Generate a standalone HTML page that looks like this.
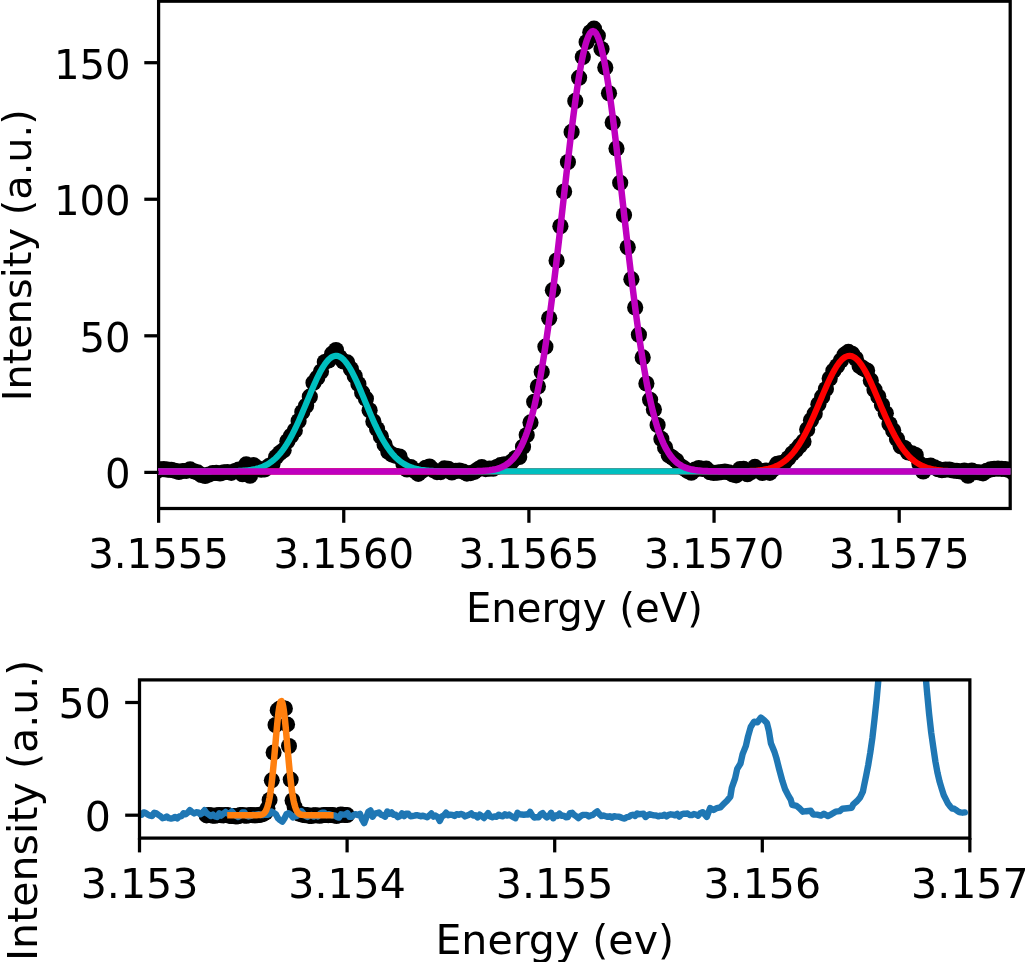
<!DOCTYPE html>
<html lang="en"><head><meta charset="utf-8"><title>Spectrum fit</title>
<style>html,body{margin:0;padding:0;background:#fff}body{width:1025px;height:962px;overflow:hidden}</style></head>
<body>
<svg width="1025" height="962" viewBox="0 0 1025 962" style="display:block">
<defs>
<clipPath id="cu"><rect x="158.0" y="1.2" width="852.40" height="507.30"/></clipPath>
<clipPath id="cl"><rect x="139.5" y="679.9" width="830.35" height="158.20"/></clipPath>
</defs>
<rect width="1025" height="962" fill="#fff"/>
<rect x="158.6" y="1.2" width="851.60" height="507.30" fill="none" stroke="#000" stroke-width="3.25"/>
<g clip-path="url(#cu)">
<g fill="#000">
<circle cx="156.5" cy="471.0" r="8.1"/>
<circle cx="160.2" cy="469.4" r="8.1"/>
<circle cx="163.9" cy="469.1" r="8.1"/>
<circle cx="167.7" cy="469.7" r="8.1"/>
<circle cx="171.4" cy="469.9" r="8.1"/>
<circle cx="175.2" cy="470.8" r="8.1"/>
<circle cx="178.9" cy="471.9" r="8.1"/>
<circle cx="182.6" cy="471.0" r="8.1"/>
<circle cx="186.4" cy="470.8" r="8.1"/>
<circle cx="190.1" cy="469.4" r="8.1"/>
<circle cx="193.9" cy="471.3" r="8.1"/>
<circle cx="197.6" cy="472.4" r="8.1"/>
<circle cx="201.3" cy="474.9" r="8.1"/>
<circle cx="205.1" cy="475.9" r="8.1"/>
<circle cx="208.8" cy="474.6" r="8.1"/>
<circle cx="212.6" cy="473.2" r="8.1"/>
<circle cx="216.3" cy="472.9" r="8.1"/>
<circle cx="220.0" cy="473.5" r="8.1"/>
<circle cx="223.8" cy="472.3" r="8.1"/>
<circle cx="227.5" cy="472.0" r="8.1"/>
<circle cx="231.3" cy="472.8" r="8.1"/>
<circle cx="235.0" cy="471.0" r="8.1"/>
<circle cx="238.7" cy="469.5" r="8.1"/>
<circle cx="242.5" cy="474.2" r="8.1"/>
<circle cx="246.2" cy="464.4" r="8.1"/>
<circle cx="250.0" cy="475.7" r="8.1"/>
<circle cx="253.7" cy="465.2" r="8.1"/>
<circle cx="257.4" cy="468.0" r="8.1"/>
<circle cx="261.2" cy="469.7" r="8.1"/>
<circle cx="264.9" cy="469.3" r="8.1"/>
<circle cx="268.7" cy="466.2" r="8.1"/>
<circle cx="272.4" cy="464.2" r="8.1"/>
<circle cx="276.1" cy="456.9" r="8.1"/>
<circle cx="279.9" cy="452.9" r="8.1"/>
<circle cx="283.6" cy="450.2" r="8.1"/>
<circle cx="287.4" cy="441.2" r="8.1"/>
<circle cx="291.1" cy="435.8" r="8.1"/>
<circle cx="294.8" cy="430.4" r="8.1"/>
<circle cx="298.6" cy="421.0" r="8.1"/>
<circle cx="302.3" cy="412.1" r="8.1"/>
<circle cx="306.1" cy="405.8" r="8.1"/>
<circle cx="309.8" cy="396.7" r="8.1"/>
<circle cx="313.5" cy="382.8" r="8.1"/>
<circle cx="317.3" cy="377.8" r="8.1"/>
<circle cx="321.0" cy="371.5" r="8.1"/>
<circle cx="324.8" cy="362.1" r="8.1"/>
<circle cx="328.5" cy="360.4" r="8.1"/>
<circle cx="332.2" cy="353.8" r="8.1"/>
<circle cx="336.0" cy="350.0" r="8.1"/>
<circle cx="339.7" cy="357.3" r="8.1"/>
<circle cx="343.5" cy="361.4" r="8.1"/>
<circle cx="347.2" cy="362.4" r="8.1"/>
<circle cx="350.9" cy="368.9" r="8.1"/>
<circle cx="354.7" cy="376.0" r="8.1"/>
<circle cx="358.4" cy="383.9" r="8.1"/>
<circle cx="362.2" cy="392.7" r="8.1"/>
<circle cx="365.9" cy="398.7" r="8.1"/>
<circle cx="369.6" cy="410.3" r="8.1"/>
<circle cx="373.4" cy="421.4" r="8.1"/>
<circle cx="377.1" cy="429.1" r="8.1"/>
<circle cx="380.9" cy="436.6" r="8.1"/>
<circle cx="384.6" cy="444.6" r="8.1"/>
<circle cx="388.3" cy="451.7" r="8.1"/>
<circle cx="392.1" cy="454.6" r="8.1"/>
<circle cx="395.8" cy="455.8" r="8.1"/>
<circle cx="399.6" cy="456.5" r="8.1"/>
<circle cx="403.3" cy="463.5" r="8.1"/>
<circle cx="407.0" cy="469.4" r="8.1"/>
<circle cx="410.8" cy="467.1" r="8.1"/>
<circle cx="414.5" cy="470.7" r="8.1"/>
<circle cx="418.3" cy="473.8" r="8.1"/>
<circle cx="422.0" cy="470.7" r="8.1"/>
<circle cx="425.7" cy="467.8" r="8.1"/>
<circle cx="429.5" cy="466.5" r="8.1"/>
<circle cx="433.2" cy="469.9" r="8.1"/>
<circle cx="437.0" cy="472.1" r="8.1"/>
<circle cx="440.7" cy="472.1" r="8.1"/>
<circle cx="444.4" cy="468.4" r="8.1"/>
<circle cx="448.2" cy="468.8" r="8.1"/>
<circle cx="451.9" cy="472.4" r="8.1"/>
<circle cx="455.7" cy="470.9" r="8.1"/>
<circle cx="459.4" cy="470.5" r="8.1"/>
<circle cx="463.1" cy="471.6" r="8.1"/>
<circle cx="466.9" cy="473.6" r="8.1"/>
<circle cx="470.6" cy="473.1" r="8.1"/>
<circle cx="474.4" cy="471.8" r="8.1"/>
<circle cx="478.1" cy="469.3" r="8.1"/>
<circle cx="481.8" cy="467.0" r="8.1"/>
<circle cx="485.6" cy="469.1" r="8.1"/>
<circle cx="489.3" cy="468.6" r="8.1"/>
<circle cx="493.1" cy="468.7" r="8.1"/>
<circle cx="496.8" cy="467.1" r="8.1"/>
<circle cx="500.5" cy="465.2" r="8.1"/>
<circle cx="504.3" cy="464.3" r="8.1"/>
<circle cx="508.0" cy="464.5" r="8.1"/>
<circle cx="511.8" cy="461.6" r="8.1"/>
<circle cx="515.5" cy="458.0" r="8.1"/>
<circle cx="519.2" cy="457.0" r="8.1"/>
<circle cx="523.0" cy="446.8" r="8.1"/>
<circle cx="526.7" cy="435.1" r="8.1"/>
<circle cx="530.5" cy="422.4" r="8.1"/>
<circle cx="534.2" cy="401.8" r="8.1"/>
<circle cx="537.9" cy="386.5" r="8.1"/>
<circle cx="541.7" cy="372.0" r="8.1"/>
<circle cx="545.4" cy="346.7" r="8.1"/>
<circle cx="549.2" cy="318.3" r="8.1"/>
<circle cx="552.9" cy="290.2" r="8.1"/>
<circle cx="556.6" cy="260.6" r="8.1"/>
<circle cx="560.4" cy="226.3" r="8.1"/>
<circle cx="564.1" cy="191.6" r="8.1"/>
<circle cx="567.9" cy="162.1" r="8.1"/>
<circle cx="571.6" cy="131.9" r="8.1"/>
<circle cx="575.3" cy="100.9" r="8.1"/>
<circle cx="579.1" cy="77.7" r="8.1"/>
<circle cx="582.8" cy="57.0" r="8.1"/>
<circle cx="586.6" cy="42.0" r="8.1"/>
<circle cx="590.3" cy="32.3" r="8.1"/>
<circle cx="594.0" cy="28.7" r="8.1"/>
<circle cx="597.8" cy="35.7" r="8.1"/>
<circle cx="601.5" cy="49.1" r="8.1"/>
<circle cx="605.3" cy="67.4" r="8.1"/>
<circle cx="609.0" cy="93.3" r="8.1"/>
<circle cx="612.7" cy="122.6" r="8.1"/>
<circle cx="616.5" cy="148.4" r="8.1"/>
<circle cx="620.2" cy="182.8" r="8.1"/>
<circle cx="624.0" cy="215.1" r="8.1"/>
<circle cx="627.7" cy="247.3" r="8.1"/>
<circle cx="631.4" cy="279.2" r="8.1"/>
<circle cx="635.2" cy="307.4" r="8.1"/>
<circle cx="638.9" cy="334.7" r="8.1"/>
<circle cx="642.7" cy="357.4" r="8.1"/>
<circle cx="646.4" cy="383.5" r="8.1"/>
<circle cx="650.1" cy="399.8" r="8.1"/>
<circle cx="653.9" cy="409.6" r="8.1"/>
<circle cx="657.6" cy="425.0" r="8.1"/>
<circle cx="661.4" cy="438.9" r="8.1"/>
<circle cx="665.1" cy="447.4" r="8.1"/>
<circle cx="668.8" cy="455.2" r="8.1"/>
<circle cx="672.6" cy="457.7" r="8.1"/>
<circle cx="676.3" cy="460.6" r="8.1"/>
<circle cx="680.1" cy="465.7" r="8.1"/>
<circle cx="683.8" cy="468.2" r="8.1"/>
<circle cx="687.5" cy="470.8" r="8.1"/>
<circle cx="691.3" cy="472.7" r="8.1"/>
<circle cx="695.0" cy="469.7" r="8.1"/>
<circle cx="698.8" cy="468.0" r="8.1"/>
<circle cx="702.5" cy="468.9" r="8.1"/>
<circle cx="706.2" cy="468.7" r="8.1"/>
<circle cx="710.0" cy="472.2" r="8.1"/>
<circle cx="713.7" cy="472.9" r="8.1"/>
<circle cx="717.5" cy="472.7" r="8.1"/>
<circle cx="721.2" cy="472.1" r="8.1"/>
<circle cx="724.9" cy="471.7" r="8.1"/>
<circle cx="728.7" cy="472.3" r="8.1"/>
<circle cx="732.4" cy="474.3" r="8.1"/>
<circle cx="736.2" cy="475.3" r="8.1"/>
<circle cx="739.9" cy="469.2" r="8.1"/>
<circle cx="743.6" cy="468.9" r="8.1"/>
<circle cx="747.4" cy="474.2" r="8.1"/>
<circle cx="751.1" cy="472.0" r="8.1"/>
<circle cx="754.9" cy="466.9" r="8.1"/>
<circle cx="758.6" cy="470.1" r="8.1"/>
<circle cx="762.3" cy="472.9" r="8.1"/>
<circle cx="766.1" cy="470.6" r="8.1"/>
<circle cx="769.8" cy="472.8" r="8.1"/>
<circle cx="773.6" cy="468.9" r="8.1"/>
<circle cx="777.3" cy="463.8" r="8.1"/>
<circle cx="781.0" cy="463.1" r="8.1"/>
<circle cx="784.8" cy="462.0" r="8.1"/>
<circle cx="788.5" cy="458.0" r="8.1"/>
<circle cx="792.3" cy="453.6" r="8.1"/>
<circle cx="796.0" cy="450.1" r="8.1"/>
<circle cx="799.7" cy="445.7" r="8.1"/>
<circle cx="803.5" cy="441.4" r="8.1"/>
<circle cx="807.2" cy="429.4" r="8.1"/>
<circle cx="811.0" cy="420.2" r="8.1"/>
<circle cx="814.7" cy="413.8" r="8.1"/>
<circle cx="818.4" cy="404.2" r="8.1"/>
<circle cx="822.2" cy="396.7" r="8.1"/>
<circle cx="825.9" cy="389.0" r="8.1"/>
<circle cx="829.7" cy="378.6" r="8.1"/>
<circle cx="833.4" cy="370.8" r="8.1"/>
<circle cx="837.1" cy="366.1" r="8.1"/>
<circle cx="840.9" cy="360.6" r="8.1"/>
<circle cx="844.6" cy="354.7" r="8.1"/>
<circle cx="848.4" cy="351.9" r="8.1"/>
<circle cx="852.1" cy="353.8" r="8.1"/>
<circle cx="855.8" cy="358.5" r="8.1"/>
<circle cx="859.6" cy="365.9" r="8.1"/>
<circle cx="863.3" cy="368.4" r="8.1"/>
<circle cx="867.1" cy="370.5" r="8.1"/>
<circle cx="870.8" cy="380.4" r="8.1"/>
<circle cx="874.5" cy="389.7" r="8.1"/>
<circle cx="878.3" cy="396.6" r="8.1"/>
<circle cx="882.0" cy="404.9" r="8.1"/>
<circle cx="885.8" cy="413.3" r="8.1"/>
<circle cx="889.5" cy="424.0" r="8.1"/>
<circle cx="893.2" cy="430.5" r="8.1"/>
<circle cx="897.0" cy="438.9" r="8.1"/>
<circle cx="900.7" cy="446.2" r="8.1"/>
<circle cx="904.5" cy="448.0" r="8.1"/>
<circle cx="908.2" cy="452.4" r="8.1"/>
<circle cx="911.9" cy="453.3" r="8.1"/>
<circle cx="915.7" cy="455.1" r="8.1"/>
<circle cx="919.4" cy="463.4" r="8.1"/>
<circle cx="923.2" cy="471.5" r="8.1"/>
<circle cx="926.9" cy="466.0" r="8.1"/>
<circle cx="930.6" cy="465.7" r="8.1"/>
<circle cx="934.4" cy="467.3" r="8.1"/>
<circle cx="938.1" cy="469.2" r="8.1"/>
<circle cx="941.9" cy="470.2" r="8.1"/>
<circle cx="945.6" cy="469.6" r="8.1"/>
<circle cx="949.3" cy="469.6" r="8.1"/>
<circle cx="953.1" cy="470.5" r="8.1"/>
<circle cx="956.8" cy="470.9" r="8.1"/>
<circle cx="960.6" cy="471.5" r="8.1"/>
<circle cx="964.3" cy="470.7" r="8.1"/>
<circle cx="968.0" cy="475.7" r="8.1"/>
<circle cx="971.8" cy="470.5" r="8.1"/>
<circle cx="975.5" cy="472.1" r="8.1"/>
<circle cx="979.3" cy="472.4" r="8.1"/>
<circle cx="983.0" cy="473.3" r="8.1"/>
<circle cx="986.7" cy="470.8" r="8.1"/>
<circle cx="990.5" cy="469.4" r="8.1"/>
<circle cx="994.2" cy="468.8" r="8.1"/>
<circle cx="998.0" cy="468.6" r="8.1"/>
<circle cx="1001.7" cy="468.8" r="8.1"/>
<circle cx="1005.4" cy="469.1" r="8.1"/>
<circle cx="1009.2" cy="469.9" r="8.1"/>
<circle cx="1012.9" cy="472.2" r="8.1"/>
</g>
<g fill="none" stroke-width="6.1" stroke-linejoin="round">
<polyline stroke="#ff0000" points="153.6,471.4 155.1,471.4 156.6,471.4 158.1,471.4 159.6,471.4 161.1,471.4 162.6,471.4 164.1,471.4 165.6,471.4 167.1,471.4 168.6,471.4 170.1,471.4 171.6,471.4 173.1,471.4 174.6,471.4 176.1,471.4 177.6,471.4 179.1,471.4 180.6,471.4 182.1,471.4 183.6,471.4 185.1,471.4 186.6,471.4 188.1,471.4 189.6,471.4 191.1,471.4 192.6,471.4 194.1,471.4 195.6,471.4 197.1,471.4 198.6,471.4 200.1,471.4 201.6,471.4 203.1,471.4 204.6,471.4 206.1,471.4 207.6,471.4 209.1,471.4 210.6,471.4 212.1,471.4 213.6,471.4 215.1,471.4 216.6,471.4 218.1,471.4 219.6,471.4 221.1,471.4 222.6,471.4 224.1,471.4 225.6,471.4 227.1,471.4 228.6,471.4 230.1,471.4 231.6,471.4 233.1,471.4 234.6,471.4 236.1,471.4 237.6,471.4 239.1,471.4 240.6,471.4 242.1,471.4 243.6,471.4 245.1,471.4 246.6,471.4 248.1,471.4 249.6,471.4 251.1,471.4 252.6,471.4 254.1,471.4 255.6,471.4 257.1,471.4 258.6,471.4 260.1,471.4 261.6,471.4 263.1,471.4 264.6,471.4 266.1,471.4 267.6,471.4 269.1,471.4 270.6,471.4 272.1,471.4 273.6,471.4 275.1,471.4 276.6,471.4 278.1,471.4 279.6,471.4 281.1,471.4 282.6,471.4 284.1,471.4 285.6,471.4 287.1,471.4 288.6,471.4 290.1,471.4 291.6,471.4 293.1,471.4 294.6,471.4 296.1,471.4 297.6,471.4 299.1,471.4 300.6,471.4 302.1,471.4 303.6,471.4 305.1,471.4 306.6,471.4 308.1,471.4 309.6,471.4 311.1,471.4 312.6,471.4 314.1,471.4 315.6,471.4 317.1,471.4 318.6,471.4 320.1,471.4 321.6,471.4 323.1,471.4 324.6,471.4 326.1,471.4 327.6,471.4 329.1,471.4 330.6,471.4 332.1,471.4 333.6,471.4 335.1,471.4 336.6,471.4 338.1,471.4 339.6,471.4 341.1,471.4 342.6,471.4 344.1,471.4 345.6,471.4 347.1,471.4 348.6,471.4 350.1,471.4 351.6,471.4 353.1,471.4 354.6,471.4 356.1,471.4 357.6,471.4 359.1,471.4 360.6,471.4 362.1,471.4 363.6,471.4 365.1,471.4 366.6,471.4 368.1,471.4 369.6,471.4 371.1,471.4 372.6,471.4 374.1,471.4 375.6,471.4 377.1,471.4 378.6,471.4 380.1,471.4 381.6,471.4 383.1,471.4 384.6,471.4 386.1,471.4 387.6,471.4 389.1,471.4 390.6,471.4 392.1,471.4 393.6,471.4 395.1,471.4 396.6,471.4 398.1,471.4 399.6,471.4 401.1,471.4 402.6,471.4 404.1,471.4 405.6,471.4 407.1,471.4 408.6,471.4 410.1,471.4 411.6,471.4 413.1,471.4 414.6,471.4 416.1,471.4 417.6,471.4 419.1,471.4 420.6,471.4 422.1,471.4 423.6,471.4 425.1,471.4 426.6,471.4 428.1,471.4 429.6,471.4 431.1,471.4 432.6,471.4 434.1,471.4 435.6,471.4 437.1,471.4 438.6,471.4 440.1,471.4 441.6,471.4 443.1,471.4 444.6,471.4 446.1,471.4 447.6,471.4 449.1,471.4 450.6,471.4 452.1,471.4 453.6,471.4 455.1,471.4 456.6,471.4 458.1,471.4 459.6,471.4 461.1,471.4 462.6,471.4 464.1,471.4 465.6,471.4 467.1,471.4 468.6,471.4 470.1,471.4 471.6,471.4 473.1,471.4 474.6,471.4 476.1,471.4 477.6,471.4 479.1,471.4 480.6,471.4 482.1,471.4 483.6,471.4 485.1,471.4 486.6,471.4 488.1,471.4 489.6,471.4 491.1,471.4 492.6,471.4 494.1,471.4 495.6,471.4 497.1,471.4 498.6,471.4 500.1,471.4 501.6,471.4 503.1,471.4 504.6,471.4 506.1,471.4 507.6,471.4 509.1,471.4 510.6,471.4 512.1,471.4 513.6,471.4 515.1,471.4 516.6,471.4 518.1,471.4 519.6,471.4 521.1,471.4 522.6,471.4 524.1,471.4 525.6,471.4 527.1,471.4 528.6,471.4 530.1,471.4 531.6,471.4 533.1,471.4 534.6,471.4 536.1,471.4 537.6,471.4 539.1,471.4 540.6,471.4 542.1,471.4 543.6,471.4 545.1,471.4 546.6,471.4 548.1,471.4 549.6,471.4 551.1,471.4 552.6,471.4 554.1,471.4 555.6,471.4 557.1,471.4 558.6,471.4 560.1,471.4 561.6,471.4 563.1,471.4 564.6,471.4 566.1,471.4 567.6,471.4 569.1,471.4 570.6,471.4 572.1,471.4 573.6,471.4 575.1,471.4 576.6,471.4 578.1,471.4 579.6,471.4 581.1,471.4 582.6,471.4 584.1,471.4 585.6,471.4 587.1,471.4 588.6,471.4 590.1,471.4 591.6,471.4 593.1,471.4 594.6,471.4 596.1,471.4 597.6,471.4 599.1,471.4 600.6,471.4 602.1,471.4 603.6,471.4 605.1,471.4 606.6,471.4 608.1,471.4 609.6,471.4 611.1,471.4 612.6,471.4 614.1,471.4 615.6,471.4 617.1,471.4 618.6,471.4 620.1,471.4 621.6,471.4 623.1,471.4 624.6,471.4 626.1,471.4 627.6,471.4 629.1,471.4 630.6,471.4 632.1,471.4 633.6,471.4 635.1,471.4 636.6,471.4 638.1,471.4 639.6,471.4 641.1,471.4 642.6,471.4 644.1,471.4 645.6,471.4 647.1,471.4 648.6,471.4 650.1,471.4 651.6,471.4 653.1,471.4 654.6,471.4 656.1,471.4 657.6,471.4 659.1,471.4 660.6,471.4 662.1,471.4 663.6,471.4 665.1,471.4 666.6,471.4 668.1,471.4 669.6,471.4 671.1,471.4 672.6,471.4 674.1,471.4 675.6,471.4 677.1,471.4 678.6,471.4 680.1,471.4 681.6,471.4 683.1,471.4 684.6,471.4 686.1,471.4 687.6,471.4 689.1,471.4 690.6,471.4 692.1,471.4 693.6,471.4 695.1,471.4 696.6,471.4 698.1,471.4 699.6,471.4 701.1,471.4 702.6,471.4 704.1,471.4 705.6,471.4 707.1,471.4 708.6,471.4 710.1,471.4 711.6,471.4 713.1,471.4 714.6,471.4 716.1,471.4 717.6,471.4 719.1,471.4 720.6,471.4 722.1,471.4 723.6,471.3 725.1,471.3 726.6,471.3 728.1,471.3 729.6,471.3 731.1,471.3 732.6,471.3 734.1,471.3 735.6,471.3 737.1,471.3 738.6,471.3 740.1,471.2 741.6,471.2 743.1,471.2 744.6,471.2 746.1,471.1 747.6,471.1 749.1,471.0 750.6,470.9 752.1,470.9 753.6,470.8 755.1,470.7 756.6,470.6 758.1,470.4 759.6,470.3 761.1,470.1 762.6,469.9 764.1,469.6 765.6,469.3 767.1,469.0 768.6,468.7 770.1,468.3 771.6,467.8 773.1,467.3 774.6,466.8 776.1,466.1 777.6,465.4 779.1,464.7 780.6,463.8 782.1,462.9 783.6,461.8 785.1,460.7 786.6,459.5 788.1,458.1 789.6,456.7 791.1,455.1 792.6,453.4 794.1,451.6 795.6,449.6 797.1,447.5 798.6,445.3 800.1,442.9 801.6,440.4 803.1,437.8 804.6,435.1 806.1,432.2 807.6,429.2 809.1,426.1 810.6,422.9 812.1,419.6 813.6,416.3 815.1,412.8 816.6,409.3 818.1,405.8 819.6,402.2 821.1,398.7 822.6,395.1 824.1,391.6 825.6,388.2 827.1,384.8 828.6,381.5 830.1,378.3 831.6,375.3 833.1,372.4 834.6,369.7 836.1,367.2 837.6,364.9 839.1,362.8 840.6,361.0 842.1,359.4 843.6,358.1 845.1,357.1 846.6,356.4 848.1,356.0 849.6,355.8 851.1,356.0 852.6,356.5 854.1,357.2 855.6,358.3 857.1,359.6 858.6,361.2 860.1,363.1 861.6,365.1 863.1,367.5 864.6,370.0 866.1,372.7 867.6,375.7 869.1,378.7 870.6,381.9 872.1,385.2 873.6,388.6 875.1,392.1 876.6,395.6 878.1,399.1 879.6,402.7 881.1,406.3 882.6,409.8 884.1,413.3 885.6,416.7 887.1,420.1 888.6,423.4 890.1,426.5 891.6,429.6 893.1,432.6 894.6,435.5 896.1,438.2 897.6,440.8 899.1,443.3 900.6,445.6 902.1,447.8 903.6,449.9 905.1,451.8 906.6,453.6 908.1,455.3 909.6,456.9 911.1,458.3 912.6,459.6 914.1,460.9 915.6,462.0 917.1,463.0 918.6,463.9 920.1,464.8 921.6,465.5 923.1,466.2 924.6,466.8 926.1,467.4 927.6,467.9 929.1,468.3 930.6,468.7 932.1,469.1 933.6,469.4 935.1,469.6 936.6,469.9 938.1,470.1 939.6,470.3 941.1,470.4 942.6,470.6 944.1,470.7 945.6,470.8 947.1,470.9 948.6,471.0 950.1,471.0 951.6,471.1 953.1,471.1 954.6,471.2 956.1,471.2 957.6,471.2 959.1,471.2 960.6,471.3 962.1,471.3 963.6,471.3 965.1,471.3 966.6,471.3 968.1,471.3 969.6,471.3 971.1,471.3 972.6,471.3 974.1,471.3 975.6,471.3 977.1,471.4 978.6,471.4 980.1,471.4 981.6,471.4 983.1,471.4 984.6,471.4 986.1,471.4 987.6,471.4 989.1,471.4 990.6,471.4 992.1,471.4 993.6,471.4 995.1,471.4 996.6,471.4 998.1,471.4 999.6,471.4 1001.1,471.4 1002.6,471.4 1004.1,471.4 1005.6,471.4 1007.1,471.4 1008.6,471.4 1010.1,471.4 1011.6,471.4 1013.1,471.4 1014.6,471.4"/>
<polyline stroke="#00bfbf" points="153.6,471.4 155.1,471.4 156.6,471.4 158.1,471.4 159.6,471.4 161.1,471.4 162.6,471.4 164.1,471.4 165.6,471.4 167.1,471.4 168.6,471.4 170.1,471.4 171.6,471.4 173.1,471.4 174.6,471.4 176.1,471.4 177.6,471.4 179.1,471.4 180.6,471.4 182.1,471.4 183.6,471.4 185.1,471.4 186.6,471.4 188.1,471.4 189.6,471.4 191.1,471.4 192.6,471.4 194.1,471.4 195.6,471.4 197.1,471.4 198.6,471.4 200.1,471.4 201.6,471.4 203.1,471.4 204.6,471.4 206.1,471.4 207.6,471.4 209.1,471.4 210.6,471.4 212.1,471.3 213.6,471.3 215.1,471.3 216.6,471.3 218.1,471.3 219.6,471.3 221.1,471.3 222.6,471.3 224.1,471.3 225.6,471.3 227.1,471.3 228.6,471.2 230.1,471.2 231.6,471.2 233.1,471.2 234.6,471.1 236.1,471.1 237.6,471.0 239.1,470.9 240.6,470.9 242.1,470.8 243.6,470.6 245.1,470.5 246.6,470.4 248.1,470.2 249.6,470.0 251.1,469.8 252.6,469.5 254.1,469.2 255.6,468.9 257.1,468.5 258.6,468.1 260.1,467.6 261.6,467.1 263.1,466.5 264.6,465.8 266.1,465.1 267.6,464.3 269.1,463.4 270.6,462.3 272.1,461.2 273.6,460.0 275.1,458.7 276.6,457.3 278.1,455.7 279.6,454.0 281.1,452.2 282.6,450.3 284.1,448.2 285.6,446.0 287.1,443.6 288.6,441.2 290.1,438.5 291.6,435.8 293.1,432.9 294.6,429.9 296.1,426.7 297.6,423.5 299.1,420.2 300.6,416.7 302.1,413.3 303.6,409.7 305.1,406.1 306.6,402.5 308.1,398.9 309.6,395.3 311.1,391.7 312.6,388.2 314.1,384.7 315.6,381.4 317.1,378.1 318.6,375.1 320.1,372.1 321.6,369.4 323.1,366.9 324.6,364.6 326.1,362.5 327.6,360.7 329.1,359.1 330.6,357.9 332.1,356.9 333.6,356.3 335.1,355.9 336.6,355.8 338.1,356.1 339.6,356.7 341.1,357.5 342.6,358.7 344.1,360.1 345.6,361.9 347.1,363.8 348.6,366.1 350.1,368.5 351.6,371.2 353.1,374.1 354.6,377.1 356.1,380.3 357.6,383.6 359.1,387.0 360.6,390.5 362.1,394.1 363.6,397.7 365.1,401.3 366.6,404.9 368.1,408.5 369.6,412.1 371.1,415.6 372.6,419.0 374.1,422.4 375.6,425.7 377.1,428.8 378.6,431.9 380.1,434.8 381.6,437.6 383.1,440.3 384.6,442.8 386.1,445.2 387.6,447.5 389.1,449.6 390.6,451.6 392.1,453.5 393.6,455.2 395.1,456.8 396.6,458.3 398.1,459.6 399.6,460.9 401.1,462.0 402.6,463.0 404.1,464.0 405.6,464.8 407.1,465.6 408.6,466.3 410.1,466.9 411.6,467.5 413.1,468.0 414.6,468.4 416.1,468.8 417.6,469.1 419.1,469.4 420.6,469.7 422.1,469.9 423.6,470.1 425.1,470.3 426.6,470.5 428.1,470.6 429.6,470.7 431.1,470.8 432.6,470.9 434.1,471.0 435.6,471.0 437.1,471.1 438.6,471.1 440.1,471.2 441.6,471.2 443.1,471.2 444.6,471.3 446.1,471.3 447.6,471.3 449.1,471.3 450.6,471.3 452.1,471.3 453.6,471.3 455.1,471.3 456.6,471.3 458.1,471.3 459.6,471.3 461.1,471.4 462.6,471.4 464.1,471.4 465.6,471.4 467.1,471.4 468.6,471.4 470.1,471.4 471.6,471.4 473.1,471.4 474.6,471.4 476.1,471.4 477.6,471.4 479.1,471.4 480.6,471.4 482.1,471.4 483.6,471.4 485.1,471.4 486.6,471.4 488.1,471.4 489.6,471.4 491.1,471.4 492.6,471.4 494.1,471.4 495.6,471.4 497.1,471.4 498.6,471.4 500.1,471.4 501.6,471.4 503.1,471.4 504.6,471.4 506.1,471.4 507.6,471.4 509.1,471.4 510.6,471.4 512.1,471.4 513.6,471.4 515.1,471.4 516.6,471.4 518.1,471.4 519.6,471.4 521.1,471.4 522.6,471.4 524.1,471.4 525.6,471.4 527.1,471.4 528.6,471.4 530.1,471.4 531.6,471.4 533.1,471.4 534.6,471.4 536.1,471.4 537.6,471.4 539.1,471.4 540.6,471.4 542.1,471.4 543.6,471.4 545.1,471.4 546.6,471.4 548.1,471.4 549.6,471.4 551.1,471.4 552.6,471.4 554.1,471.4 555.6,471.4 557.1,471.4 558.6,471.4 560.1,471.4 561.6,471.4 563.1,471.4 564.6,471.4 566.1,471.4 567.6,471.4 569.1,471.4 570.6,471.4 572.1,471.4 573.6,471.4 575.1,471.4 576.6,471.4 578.1,471.4 579.6,471.4 581.1,471.4 582.6,471.4 584.1,471.4 585.6,471.4 587.1,471.4 588.6,471.4 590.1,471.4 591.6,471.4 593.1,471.4 594.6,471.4 596.1,471.4 597.6,471.4 599.1,471.4 600.6,471.4 602.1,471.4 603.6,471.4 605.1,471.4 606.6,471.4 608.1,471.4 609.6,471.4 611.1,471.4 612.6,471.4 614.1,471.4 615.6,471.4 617.1,471.4 618.6,471.4 620.1,471.4 621.6,471.4 623.1,471.4 624.6,471.4 626.1,471.4 627.6,471.4 629.1,471.4 630.6,471.4 632.1,471.4 633.6,471.4 635.1,471.4 636.6,471.4 638.1,471.4 639.6,471.4 641.1,471.4 642.6,471.4 644.1,471.4 645.6,471.4 647.1,471.4 648.6,471.4 650.1,471.4 651.6,471.4 653.1,471.4 654.6,471.4 656.1,471.4 657.6,471.4 659.1,471.4 660.6,471.4 662.1,471.4 663.6,471.4 665.1,471.4 666.6,471.4 668.1,471.4 669.6,471.4 671.1,471.4 672.6,471.4 674.1,471.4 675.6,471.4 677.1,471.4 678.6,471.4 680.1,471.4 681.6,471.4 683.1,471.4 684.6,471.4 686.1,471.4 687.6,471.4 689.1,471.4 690.6,471.4 692.1,471.4 693.6,471.4 695.1,471.4 696.6,471.4 698.1,471.4 699.6,471.4 701.1,471.4 702.6,471.4 704.1,471.4 705.6,471.4 707.1,471.4 708.6,471.4 710.1,471.4 711.6,471.4 713.1,471.4 714.6,471.4 716.1,471.4 717.6,471.4 719.1,471.4 720.6,471.4 722.1,471.4 723.6,471.4 725.1,471.4 726.6,471.4 728.1,471.4 729.6,471.4 731.1,471.4 732.6,471.4 734.1,471.4 735.6,471.4 737.1,471.4 738.6,471.4 740.1,471.4 741.6,471.4 743.1,471.4 744.6,471.4 746.1,471.4 747.6,471.4 749.1,471.4 750.6,471.4 752.1,471.4 753.6,471.4 755.1,471.4 756.6,471.4 758.1,471.4 759.6,471.4 761.1,471.4 762.6,471.4 764.1,471.4 765.6,471.4 767.1,471.4 768.6,471.4 770.1,471.4 771.6,471.4 773.1,471.4 774.6,471.4 776.1,471.4 777.6,471.4 779.1,471.4 780.6,471.4 782.1,471.4 783.6,471.4 785.1,471.4 786.6,471.4 788.1,471.4 789.6,471.4 791.1,471.4 792.6,471.4 794.1,471.4 795.6,471.4 797.1,471.4 798.6,471.4 800.1,471.4 801.6,471.4 803.1,471.4 804.6,471.4 806.1,471.4 807.6,471.4 809.1,471.4 810.6,471.4 812.1,471.4 813.6,471.4 815.1,471.4 816.6,471.4 818.1,471.4 819.6,471.4 821.1,471.4 822.6,471.4 824.1,471.4 825.6,471.4 827.1,471.4 828.6,471.4 830.1,471.4 831.6,471.4 833.1,471.4 834.6,471.4 836.1,471.4 837.6,471.4 839.1,471.4 840.6,471.4 842.1,471.4 843.6,471.4 845.1,471.4 846.6,471.4 848.1,471.4 849.6,471.4 851.1,471.4 852.6,471.4 854.1,471.4 855.6,471.4 857.1,471.4 858.6,471.4 860.1,471.4 861.6,471.4 863.1,471.4 864.6,471.4 866.1,471.4 867.6,471.4 869.1,471.4 870.6,471.4 872.1,471.4 873.6,471.4 875.1,471.4 876.6,471.4 878.1,471.4 879.6,471.4 881.1,471.4 882.6,471.4 884.1,471.4 885.6,471.4 887.1,471.4 888.6,471.4 890.1,471.4 891.6,471.4 893.1,471.4 894.6,471.4 896.1,471.4 897.6,471.4 899.1,471.4 900.6,471.4 902.1,471.4 903.6,471.4 905.1,471.4 906.6,471.4 908.1,471.4 909.6,471.4 911.1,471.4 912.6,471.4 914.1,471.4 915.6,471.4 917.1,471.4 918.6,471.4 920.1,471.4 921.6,471.4 923.1,471.4 924.6,471.4 926.1,471.4 927.6,471.4 929.1,471.4 930.6,471.4 932.1,471.4 933.6,471.4 935.1,471.4 936.6,471.4 938.1,471.4 939.6,471.4 941.1,471.4 942.6,471.4 944.1,471.4 945.6,471.4 947.1,471.4 948.6,471.4 950.1,471.4 951.6,471.4 953.1,471.4 954.6,471.4 956.1,471.4 957.6,471.4 959.1,471.4 960.6,471.4 962.1,471.4 963.6,471.4 965.1,471.4 966.6,471.4 968.1,471.4 969.6,471.4 971.1,471.4 972.6,471.4 974.1,471.4 975.6,471.4 977.1,471.4 978.6,471.4 980.1,471.4 981.6,471.4 983.1,471.4 984.6,471.4 986.1,471.4 987.6,471.4 989.1,471.4 990.6,471.4 992.1,471.4 993.6,471.4 995.1,471.4 996.6,471.4 998.1,471.4 999.6,471.4 1001.1,471.4 1002.6,471.4 1004.1,471.4 1005.6,471.4 1007.1,471.4 1008.6,471.4 1010.1,471.4 1011.6,471.4 1013.1,471.4 1014.6,471.4"/>
<polyline stroke="#bf00bf" stroke-width="6.5" points="153.6,471.4 155.1,471.4 156.6,471.4 158.1,471.4 159.6,471.4 161.1,471.4 162.6,471.4 164.1,471.4 165.6,471.4 167.1,471.4 168.6,471.4 170.1,471.4 171.6,471.4 173.1,471.4 174.6,471.4 176.1,471.4 177.6,471.4 179.1,471.4 180.6,471.4 182.1,471.4 183.6,471.4 185.1,471.4 186.6,471.4 188.1,471.4 189.6,471.4 191.1,471.4 192.6,471.4 194.1,471.4 195.6,471.4 197.1,471.4 198.6,471.4 200.1,471.4 201.6,471.4 203.1,471.4 204.6,471.4 206.1,471.4 207.6,471.4 209.1,471.4 210.6,471.4 212.1,471.4 213.6,471.4 215.1,471.4 216.6,471.4 218.1,471.4 219.6,471.4 221.1,471.4 222.6,471.4 224.1,471.4 225.6,471.4 227.1,471.4 228.6,471.4 230.1,471.4 231.6,471.4 233.1,471.4 234.6,471.4 236.1,471.4 237.6,471.4 239.1,471.4 240.6,471.4 242.1,471.4 243.6,471.4 245.1,471.4 246.6,471.4 248.1,471.4 249.6,471.4 251.1,471.4 252.6,471.4 254.1,471.4 255.6,471.4 257.1,471.4 258.6,471.4 260.1,471.4 261.6,471.4 263.1,471.4 264.6,471.4 266.1,471.4 267.6,471.4 269.1,471.4 270.6,471.4 272.1,471.4 273.6,471.4 275.1,471.4 276.6,471.4 278.1,471.4 279.6,471.4 281.1,471.4 282.6,471.4 284.1,471.4 285.6,471.4 287.1,471.4 288.6,471.4 290.1,471.4 291.6,471.4 293.1,471.4 294.6,471.4 296.1,471.4 297.6,471.4 299.1,471.4 300.6,471.4 302.1,471.4 303.6,471.4 305.1,471.4 306.6,471.4 308.1,471.4 309.6,471.4 311.1,471.4 312.6,471.4 314.1,471.4 315.6,471.4 317.1,471.4 318.6,471.4 320.1,471.4 321.6,471.4 323.1,471.4 324.6,471.4 326.1,471.4 327.6,471.4 329.1,471.4 330.6,471.4 332.1,471.4 333.6,471.4 335.1,471.4 336.6,471.4 338.1,471.4 339.6,471.4 341.1,471.4 342.6,471.4 344.1,471.4 345.6,471.4 347.1,471.4 348.6,471.4 350.1,471.4 351.6,471.4 353.1,471.4 354.6,471.4 356.1,471.4 357.6,471.4 359.1,471.4 360.6,471.4 362.1,471.4 363.6,471.4 365.1,471.4 366.6,471.4 368.1,471.4 369.6,471.4 371.1,471.4 372.6,471.4 374.1,471.4 375.6,471.4 377.1,471.4 378.6,471.4 380.1,471.4 381.6,471.4 383.1,471.4 384.6,471.4 386.1,471.4 387.6,471.4 389.1,471.4 390.6,471.4 392.1,471.4 393.6,471.4 395.1,471.4 396.6,471.4 398.1,471.4 399.6,471.4 401.1,471.4 402.6,471.4 404.1,471.4 405.6,471.4 407.1,471.4 408.6,471.4 410.1,471.4 411.6,471.4 413.1,471.4 414.6,471.4 416.1,471.4 417.6,471.4 419.1,471.4 420.6,471.4 422.1,471.4 423.6,471.4 425.1,471.4 426.6,471.4 428.1,471.4 429.6,471.4 431.1,471.4 432.6,471.4 434.1,471.4 435.6,471.4 437.1,471.4 438.6,471.4 440.1,471.4 441.6,471.4 443.1,471.4 444.6,471.4 446.1,471.4 447.6,471.4 449.1,471.4 450.6,471.4 452.1,471.4 453.6,471.4 455.1,471.4 456.6,471.4 458.1,471.4 459.6,471.4 461.1,471.4 462.6,471.4 464.1,471.4 465.6,471.4 467.1,471.4 468.6,471.3 470.1,471.3 471.6,471.3 473.1,471.3 474.6,471.2 476.1,471.2 477.6,471.1 479.1,471.1 480.6,471.0 482.1,470.9 483.6,470.8 485.1,470.7 486.6,470.6 488.1,470.4 489.6,470.3 491.1,470.0 492.6,469.8 494.1,469.5 495.6,469.2 497.1,468.8 498.6,468.3 500.1,467.8 501.6,467.2 503.1,466.5 504.6,465.7 506.1,464.8 507.6,463.8 509.1,462.6 510.6,461.3 512.1,459.8 513.6,458.2 515.1,456.3 516.6,454.2 518.1,451.9 519.6,449.3 521.1,446.5 522.6,443.4 524.1,439.9 525.6,436.1 527.1,432.0 528.6,427.5 530.1,422.5 531.6,417.2 533.1,411.4 534.6,405.2 536.1,398.5 537.6,391.4 539.1,383.8 540.6,375.6 542.1,367.0 543.6,357.9 545.1,348.3 546.6,338.3 548.1,327.8 549.6,316.8 551.1,305.4 552.6,293.6 554.1,281.5 555.6,269.0 557.1,256.2 558.6,243.3 560.1,230.1 561.6,216.8 563.1,203.5 564.6,190.1 566.1,176.9 567.6,163.8 569.1,150.9 570.6,138.2 572.1,126.0 573.6,114.2 575.1,102.9 576.6,92.2 578.1,82.2 579.6,72.9 581.1,64.4 582.6,56.8 584.1,50.1 585.6,44.3 587.1,39.6 588.6,35.8 590.1,33.2 591.6,31.6 593.1,31.1 594.6,31.8 596.1,33.5 597.6,36.3 599.1,40.1 600.6,45.0 602.1,50.9 603.6,57.8 605.1,65.5 606.6,74.1 608.1,83.5 609.6,93.6 611.1,104.4 612.6,115.7 614.1,127.6 615.6,139.9 617.1,152.6 618.6,165.5 620.1,178.6 621.6,191.9 623.1,205.3 624.6,218.6 626.1,231.9 627.6,245.0 629.1,258.0 630.6,270.7 632.1,283.1 633.6,295.2 635.1,306.9 636.6,318.3 638.1,329.2 639.6,339.7 641.1,349.7 642.6,359.2 644.1,368.2 645.6,376.8 647.1,384.8 648.6,392.4 650.1,399.5 651.6,406.1 653.1,412.2 654.6,417.9 656.1,423.2 657.6,428.1 659.1,432.6 660.6,436.6 662.1,440.4 663.6,443.8 665.1,446.9 666.6,449.7 668.1,452.2 669.6,454.5 671.1,456.6 672.6,458.4 674.1,460.0 675.6,461.5 677.1,462.8 678.6,463.9 680.1,464.9 681.6,465.8 683.1,466.6 684.6,467.3 686.1,467.8 687.6,468.4 689.1,468.8 690.6,469.2 692.1,469.5 693.6,469.8 695.1,470.1 696.6,470.3 698.1,470.5 699.6,470.6 701.1,470.7 702.6,470.9 704.1,471.0 705.6,471.0 707.1,471.1 708.6,471.2 710.1,471.2 711.6,471.2 713.1,471.3 714.6,471.3 716.1,471.3 717.6,471.3 719.1,471.4 720.6,471.4 722.1,471.4 723.6,471.4 725.1,471.4 726.6,471.4 728.1,471.4 729.6,471.4 731.1,471.4 732.6,471.4 734.1,471.4 735.6,471.4 737.1,471.4 738.6,471.4 740.1,471.4 741.6,471.4 743.1,471.4 744.6,471.4 746.1,471.4 747.6,471.4 749.1,471.4 750.6,471.4 752.1,471.4 753.6,471.4 755.1,471.4 756.6,471.4 758.1,471.4 759.6,471.4 761.1,471.4 762.6,471.4 764.1,471.4 765.6,471.4 767.1,471.4 768.6,471.4 770.1,471.4 771.6,471.4 773.1,471.4 774.6,471.4 776.1,471.4 777.6,471.4 779.1,471.4 780.6,471.4 782.1,471.4 783.6,471.4 785.1,471.4 786.6,471.4 788.1,471.4 789.6,471.4 791.1,471.4 792.6,471.4 794.1,471.4 795.6,471.4 797.1,471.4 798.6,471.4 800.1,471.4 801.6,471.4 803.1,471.4 804.6,471.4 806.1,471.4 807.6,471.4 809.1,471.4 810.6,471.4 812.1,471.4 813.6,471.4 815.1,471.4 816.6,471.4 818.1,471.4 819.6,471.4 821.1,471.4 822.6,471.4 824.1,471.4 825.6,471.4 827.1,471.4 828.6,471.4 830.1,471.4 831.6,471.4 833.1,471.4 834.6,471.4 836.1,471.4 837.6,471.4 839.1,471.4 840.6,471.4 842.1,471.4 843.6,471.4 845.1,471.4 846.6,471.4 848.1,471.4 849.6,471.4 851.1,471.4 852.6,471.4 854.1,471.4 855.6,471.4 857.1,471.4 858.6,471.4 860.1,471.4 861.6,471.4 863.1,471.4 864.6,471.4 866.1,471.4 867.6,471.4 869.1,471.4 870.6,471.4 872.1,471.4 873.6,471.4 875.1,471.4 876.6,471.4 878.1,471.4 879.6,471.4 881.1,471.4 882.6,471.4 884.1,471.4 885.6,471.4 887.1,471.4 888.6,471.4 890.1,471.4 891.6,471.4 893.1,471.4 894.6,471.4 896.1,471.4 897.6,471.4 899.1,471.4 900.6,471.4 902.1,471.4 903.6,471.4 905.1,471.4 906.6,471.4 908.1,471.4 909.6,471.4 911.1,471.4 912.6,471.4 914.1,471.4 915.6,471.4 917.1,471.4 918.6,471.4 920.1,471.4 921.6,471.4 923.1,471.4 924.6,471.4 926.1,471.4 927.6,471.4 929.1,471.4 930.6,471.4 932.1,471.4 933.6,471.4 935.1,471.4 936.6,471.4 938.1,471.4 939.6,471.4 941.1,471.4 942.6,471.4 944.1,471.4 945.6,471.4 947.1,471.4 948.6,471.4 950.1,471.4 951.6,471.4 953.1,471.4 954.6,471.4 956.1,471.4 957.6,471.4 959.1,471.4 960.6,471.4 962.1,471.4 963.6,471.4 965.1,471.4 966.6,471.4 968.1,471.4 969.6,471.4 971.1,471.4 972.6,471.4 974.1,471.4 975.6,471.4 977.1,471.4 978.6,471.4 980.1,471.4 981.6,471.4 983.1,471.4 984.6,471.4 986.1,471.4 987.6,471.4 989.1,471.4 990.6,471.4 992.1,471.4 993.6,471.4 995.1,471.4 996.6,471.4 998.1,471.4 999.6,471.4 1001.1,471.4 1002.6,471.4 1004.1,471.4 1005.6,471.4 1007.1,471.4 1008.6,471.4 1010.1,471.4 1011.6,471.4 1013.1,471.4 1014.6,471.4"/>
</g></g>
<g clip-path="url(#cl)">
<g fill="#000">
<circle cx="206.6" cy="815.4" r="8.0"/>
<circle cx="208.7" cy="815.1" r="8.0"/>
<circle cx="210.8" cy="815.3" r="8.0"/>
<circle cx="212.9" cy="815.7" r="8.0"/>
<circle cx="215.0" cy="815.8" r="8.0"/>
<circle cx="217.1" cy="815.2" r="8.0"/>
<circle cx="219.2" cy="815.1" r="8.0"/>
<circle cx="221.3" cy="815.3" r="8.0"/>
<circle cx="223.4" cy="815.4" r="8.0"/>
<circle cx="225.5" cy="815.1" r="8.0"/>
<circle cx="227.6" cy="815.0" r="8.0"/>
<circle cx="229.7" cy="815.9" r="8.0"/>
<circle cx="231.8" cy="816.0" r="8.0"/>
<circle cx="233.9" cy="816.0" r="8.0"/>
<circle cx="236.0" cy="816.6" r="8.0"/>
<circle cx="238.1" cy="816.3" r="8.0"/>
<circle cx="240.2" cy="815.1" r="8.0"/>
<circle cx="242.3" cy="815.0" r="8.0"/>
<circle cx="244.4" cy="815.6" r="8.0"/>
<circle cx="246.5" cy="815.8" r="8.0"/>
<circle cx="248.6" cy="815.3" r="8.0"/>
<circle cx="250.7" cy="815.0" r="8.0"/>
<circle cx="252.8" cy="815.3" r="8.0"/>
<circle cx="254.9" cy="815.3" r="8.0"/>
<circle cx="257.0" cy="815.3" r="8.0"/>
<circle cx="259.1" cy="815.0" r="8.0"/>
<circle cx="261.2" cy="814.6" r="8.0"/>
<circle cx="263.3" cy="813.9" r="8.0"/>
<circle cx="265.4" cy="812.5" r="8.0"/>
<circle cx="267.5" cy="808.4" r="8.0"/>
<circle cx="269.6" cy="799.9" r="8.0"/>
<circle cx="271.8" cy="780.3" r="8.0"/>
<circle cx="273.6" cy="752.5" r="8.0"/>
<circle cx="275.5" cy="725.0" r="8.0"/>
<circle cx="277.7" cy="710.2" r="8.0"/>
<circle cx="279.8" cy="708.4" r="8.0"/>
<circle cx="282.3" cy="707.9" r="8.0"/>
<circle cx="284.9" cy="708.4" r="8.0"/>
<circle cx="287.1" cy="724.4" r="8.0"/>
<circle cx="289.0" cy="746.0" r="8.0"/>
<circle cx="290.7" cy="779.6" r="8.0"/>
<circle cx="292.5" cy="800.5" r="8.0"/>
<circle cx="294.6" cy="806.9" r="8.0"/>
<circle cx="296.7" cy="811.9" r="8.0"/>
<circle cx="298.8" cy="813.7" r="8.0"/>
<circle cx="300.9" cy="813.9" r="8.0"/>
<circle cx="303.0" cy="814.9" r="8.0"/>
<circle cx="305.1" cy="815.2" r="8.0"/>
<circle cx="307.2" cy="815.0" r="8.0"/>
<circle cx="309.3" cy="815.9" r="8.0"/>
<circle cx="311.4" cy="816.0" r="8.0"/>
<circle cx="313.5" cy="815.3" r="8.0"/>
<circle cx="315.6" cy="815.3" r="8.0"/>
<circle cx="317.7" cy="815.6" r="8.0"/>
<circle cx="319.8" cy="815.7" r="8.0"/>
<circle cx="321.9" cy="815.4" r="8.0"/>
<circle cx="324.0" cy="815.0" r="8.0"/>
<circle cx="326.1" cy="814.9" r="8.0"/>
<circle cx="328.2" cy="815.2" r="8.0"/>
<circle cx="330.3" cy="814.9" r="8.0"/>
<circle cx="332.4" cy="815.0" r="8.0"/>
<circle cx="334.5" cy="815.6" r="8.0"/>
<circle cx="336.6" cy="815.9" r="8.0"/>
<circle cx="338.7" cy="815.4" r="8.0"/>
<circle cx="340.8" cy="814.6" r="8.0"/>
<circle cx="342.9" cy="814.8" r="8.0"/>
<circle cx="345.0" cy="814.9" r="8.0"/>
<circle cx="347.1" cy="815.1" r="8.0"/>
</g>
<polyline fill="none" stroke="#1f77b4" stroke-width="6.4" stroke-linejoin="round" stroke-linecap="round" points="139.5,814.7 141.6,814.8 143.7,812.4 145.8,813.1 147.9,814.6 150.0,815.7 152.1,816.0 154.2,812.7 156.3,813.4 158.4,814.9 160.5,816.2 162.6,818.2 164.7,817.7 166.8,816.4 168.9,818.2 171.0,818.6 173.1,818.1 175.2,816.9 177.3,818.5 179.4,816.5 181.5,816.1 183.6,813.2 185.7,814.3 187.8,812.6 189.9,810.1 192.0,812.1 194.1,813.4 196.2,812.3 198.3,812.4 200.4,814.3 202.5,813.0 204.6,810.2 206.7,813.3 208.8,814.6 210.9,816.1 213.0,814.6 215.1,816.4 217.2,817.0 219.3,813.3 221.4,815.5 223.5,813.6 225.6,811.9 227.7,813.6 229.8,813.8 231.9,811.5 234.0,814.1 236.1,815.8 238.2,817.1 240.3,815.4 242.4,812.5 244.5,812.5 246.6,815.7 248.7,816.5 250.8,816.0 252.9,814.6 255.0,814.9 257.1,814.5 259.2,814.2 261.3,815.1 263.4,815.0 265.5,814.5 267.6,814.8 269.7,814.0 271.8,811.6 273.9,812.9 276.0,814.4 278.1,818.4 280.2,820.2 282.3,821.7 284.4,818.5 286.5,814.2 288.6,813.2 290.7,814.6 292.8,817.4 294.9,816.2 297.0,816.0 299.1,814.1 301.2,811.0 303.3,813.3 305.4,815.8 307.5,816.9 309.6,815.4 311.7,815.0 313.8,816.6 315.9,815.2 318.0,816.4 320.1,813.6 322.2,812.6 324.3,812.6 326.4,814.9 328.5,814.2 330.6,814.7 332.7,815.4 334.8,815.5 336.9,816.9 339.0,817.6 341.1,814.3 343.2,814.6 345.3,814.5 347.4,813.1 349.5,816.9 351.6,816.8 353.7,814.9 355.8,814.1 357.9,815.1 360.0,813.9 362.1,819.5 364.2,823.1 366.3,817.4 368.4,811.7 370.5,810.4 372.6,816.8 374.7,813.6 376.8,813.2 378.9,812.4 381.0,814.7 383.1,815.4 385.2,816.6 387.3,811.5 389.4,813.7 391.5,812.4 393.6,814.9 395.7,814.8 397.8,817.2 399.9,816.2 402.0,813.4 404.1,816.2 406.2,813.8 408.3,813.7 410.4,816.2 412.5,816.0 414.6,815.7 416.7,815.1 418.8,815.6 420.9,816.3 423.0,815.6 425.1,816.5 427.2,817.2 429.3,815.5 431.4,813.4 433.5,816.6 435.6,815.6 437.7,816.9 439.8,820.9 441.9,816.3 444.0,815.3 446.1,812.7 448.2,815.2 450.3,814.6 452.4,814.9 454.5,816.0 456.6,814.2 458.7,814.7 460.8,813.9 462.9,814.5 465.0,816.4 467.1,815.5 469.2,814.7 471.3,813.3 473.4,815.6 475.5,815.3 477.6,817.4 479.7,814.6 481.8,816.1 483.9,818.0 486.0,815.8 488.1,813.1 490.2,816.5 492.3,817.2 494.4,816.4 496.5,816.8 498.6,814.7 500.7,815.8 502.8,816.3 504.9,814.2 507.0,815.6 509.1,814.5 511.2,816.0 513.3,817.1 515.4,818.2 517.5,812.8 519.6,814.3 521.7,814.5 523.8,814.7 525.9,814.5 528.0,814.6 530.1,811.8 532.2,815.4 534.3,817.6 536.4,817.1 538.5,817.3 540.6,814.3 542.7,813.1 544.8,815.8 546.9,817.4 549.0,816.0 551.1,812.8 553.2,818.3 555.3,815.4 557.4,816.1 559.5,813.7 561.6,815.9 563.7,815.7 565.8,817.2 567.9,817.0 570.0,813.1 572.1,812.8 574.2,814.9 576.3,816.3 578.4,818.1 580.5,816.3 582.6,815.0 584.7,814.9 586.8,814.9 588.9,816.5 591.0,815.4 593.1,814.8 595.2,812.8 597.3,811.3 599.4,814.1 601.5,816.1 603.6,815.5 605.7,816.2 607.8,816.9 609.9,816.2 612.0,817.7 614.1,816.1 616.2,816.6 618.3,816.6 620.4,817.2 622.5,818.1 624.6,818.5 626.7,817.2 628.8,816.9 630.9,815.4 633.0,814.7 635.1,815.9 637.2,813.4 639.3,814.2 641.4,813.9 643.5,813.7 645.6,817.0 647.7,815.2 649.8,814.3 651.9,814.9 654.0,815.4 656.1,815.5 658.2,816.4 660.3,815.6 662.4,815.7 664.5,814.8 666.6,816.4 668.7,814.9 670.8,814.3 672.9,814.7 675.0,815.3 677.1,813.9 679.2,816.7 681.3,814.5 683.4,813.7 685.5,813.7 687.6,813.5 689.7,815.0 691.8,815.1 693.9,814.0 696.0,814.5 698.1,815.7 700.0,813.5 702.7,812.2 706.8,816.9 710.1,808.1 713.5,810.1 716.9,808.1 720.3,807.4 723.6,804.1 727.0,800.7 730.4,796.6 731.8,787.8 735.1,778.4 737.2,768.9 740.5,763.5 742.6,754.1 745.9,745.9 748.0,736.5 750.7,727.0 754.1,721.6 757.4,722.3 760.8,717.6 764.2,720.3 766.9,723.0 768.9,731.1 770.9,743.2 774.3,751.4 776.4,758.1 779.1,768.9 782.4,781.1 785.1,789.2 788.5,795.9 790.7,799.5 792.2,804.9 796.6,805.9 799.5,808.3 802.9,811.7 806.3,811.2 810.7,810.7 813.2,814.6 817.1,814.6 821.0,815.6 823.9,813.7 827.8,816.1 831.7,814.1 835.6,811.7 839.5,811.2 842.4,808.8 847.3,808.3 851.7,807.8 853.2,804.4 857.1,801.0 860.0,797.6 862.9,791.7 864.0,786.0 866.1,775.9 868.2,765.1 870.3,752.5 872.4,737.9 874.5,719.4 876.6,699.6 878.7,676.3 880.8,652.5 882.9,626.5 885.0,598.2 887.1,570.8 889.2,543.0 891.3,517.5 893.4,495.5 895.5,475.9 897.6,461.3 899.7,450.9 901.8,447.7 903.9,449.7 906.0,456.0 908.1,467.8 910.2,485.3 912.3,508.2 914.4,533.2 916.5,558.8 918.6,587.3 920.7,616.0 922.8,642.4 924.9,667.4 927.0,691.8 929.1,713.9 931.2,732.6 933.3,747.3 935.4,761.5 937.5,772.8 939.6,781.7 941.7,788.7 943.8,795.2 945.9,799.4 948.0,803.6 950.1,806.3 952.2,808.6 954.3,808.8 956.4,810.2 958.5,811.8 960.6,812.3 962.7,812.7 964.8,812.4"/>
<polyline fill="none" stroke="#ff7f0e" stroke-width="6.5" stroke-linejoin="round" points="227.2,815.2 228.0,815.2 228.8,815.2 229.6,815.2 230.4,815.2 231.2,815.2 232.0,815.2 232.8,815.2 233.6,815.2 234.4,815.2 235.2,815.2 236.0,815.2 236.8,815.2 237.6,815.2 238.4,815.2 239.2,815.2 240.0,815.2 240.8,815.2 241.6,815.2 242.4,815.2 243.2,815.2 244.0,815.2 244.8,815.2 245.6,815.2 246.4,815.2 247.2,815.2 248.0,815.2 248.8,815.2 249.6,815.2 250.4,815.2 251.2,815.2 252.0,815.2 252.8,815.2 253.6,815.2 254.4,815.2 255.2,815.2 256.0,815.2 256.8,815.2 257.6,815.1 258.4,815.1 259.2,815.1 260.0,815.0 260.8,814.8 261.6,814.6 262.4,814.3 263.2,813.9 264.0,813.3 264.8,812.4 265.6,811.3 266.4,809.7 267.2,807.6 268.0,805.0 268.8,801.7 269.6,797.6 270.4,792.7 271.2,786.8 272.0,780.1 272.8,772.6 273.6,764.4 274.4,755.6 275.2,746.5 276.0,737.3 276.8,728.5 277.6,720.4 278.4,713.3 279.2,707.6 280.0,703.5 280.8,701.3 281.6,701.1 282.4,702.8 283.2,706.4 284.0,711.8 284.8,718.5 285.6,726.4 286.4,735.1 287.2,744.2 288.0,753.3 288.8,762.2 289.6,770.6 290.4,778.3 291.2,785.2 292.0,791.3 292.8,796.4 293.6,800.7 294.4,804.2 295.2,807.0 296.0,809.2 296.8,810.9 297.6,812.2 298.4,813.1 299.2,813.8 300.0,814.2 300.8,814.6 301.6,814.8 302.4,814.9 303.2,815.0 304.0,815.1 304.8,815.1 305.6,815.2 306.4,815.2 307.2,815.2 308.0,815.2 308.8,815.2 309.6,815.2 310.4,815.2 311.2,815.2 312.0,815.2 312.8,815.2 313.6,815.2 314.4,815.2 315.2,815.2 316.0,815.2 316.8,815.2 317.6,815.2 318.4,815.2 319.2,815.2 320.0,815.2 320.8,815.2 321.6,815.2 322.4,815.2 323.2,815.2 324.0,815.2 324.8,815.2 325.6,815.2 326.4,815.2 327.2,815.2 328.0,815.2 328.8,815.2 329.6,815.2 330.4,815.2 331.2,815.2 332.0,815.2 332.8,815.2 333.6,815.2"/>
</g>
<g fill="none" stroke="#000" stroke-width="3.25">
<rect x="139.5" y="679.9" width="830.35" height="158.20"/>
<line x1="158.6" y1="508.5" x2="158.6" y2="522.8"/>
<line x1="343.75" y1="508.5" x2="343.75" y2="522.8"/>
<line x1="528.9" y1="508.5" x2="528.9" y2="522.8"/>
<line x1="714.05" y1="508.5" x2="714.05" y2="522.8"/>
<line x1="899.2" y1="508.5" x2="899.2" y2="522.8"/>
<line x1="158.6" y1="62.7" x2="144.29999999999998" y2="62.7"/>
<line x1="158.6" y1="199.25" x2="144.29999999999998" y2="199.25"/>
<line x1="158.6" y1="335.8" x2="144.29999999999998" y2="335.8"/>
<line x1="158.6" y1="472.4" x2="144.29999999999998" y2="472.4"/>
<line x1="139.5" y1="838.1" x2="139.5" y2="852.4"/>
<line x1="347.1" y1="838.1" x2="347.1" y2="852.4"/>
<line x1="554.7" y1="838.1" x2="554.7" y2="852.4"/>
<line x1="762.3" y1="838.1" x2="762.3" y2="852.4"/>
<line x1="969.85" y1="838.1" x2="969.85" y2="852.4"/>
<line x1="139.5" y1="702.5" x2="125.2" y2="702.5"/>
<line x1="139.5" y1="815.2" x2="125.2" y2="815.2"/>
</g>
<g font-family="'DejaVu Sans','Liberation Sans',sans-serif" font-size="40.2" fill="#000">
<text x="158.6" y="567.7" text-anchor="middle">3.1555</text>
<text x="343.75" y="567.7" text-anchor="middle">3.1560</text>
<text x="528.9" y="567.7" text-anchor="middle">3.1565</text>
<text x="714.05" y="567.7" text-anchor="middle">3.1570</text>
<text x="899.2" y="567.7" text-anchor="middle">3.1575</text>
<text x="130.7" y="78.6" text-anchor="end">150</text>
<text x="130.7" y="215.2" text-anchor="end">100</text>
<text x="130.7" y="351.7" text-anchor="end">50</text>
<text x="130.7" y="488.3" text-anchor="end">0</text>
<text x="584.4" y="621.7" text-anchor="middle">Energy (eV)</text>
<text transform="translate(30.7,401.3) rotate(-90)" font-size="39.85">Intensity (a.u.)</text>
<g font-size="41.1">
<text x="139.5" y="897.7" text-anchor="middle">3.153</text>
<text x="347.1" y="897.7" text-anchor="middle">3.154</text>
<text x="554.7" y="897.7" text-anchor="middle">3.155</text>
<text x="762.3" y="897.7" text-anchor="middle">3.156</text>
<text x="969.85" y="897.7" text-anchor="middle">3.157</text>
<text x="110.8" y="718.2" text-anchor="end">50</text>
<text x="110.8" y="830.9" text-anchor="end">0</text>
<text x="554.7" y="953.6" text-anchor="middle">Energy (ev)</text>
<text transform="translate(37.3,961.0) rotate(-90)">Intensity (a.u.)</text>
</g>
</g>
</svg>
</body></html>
